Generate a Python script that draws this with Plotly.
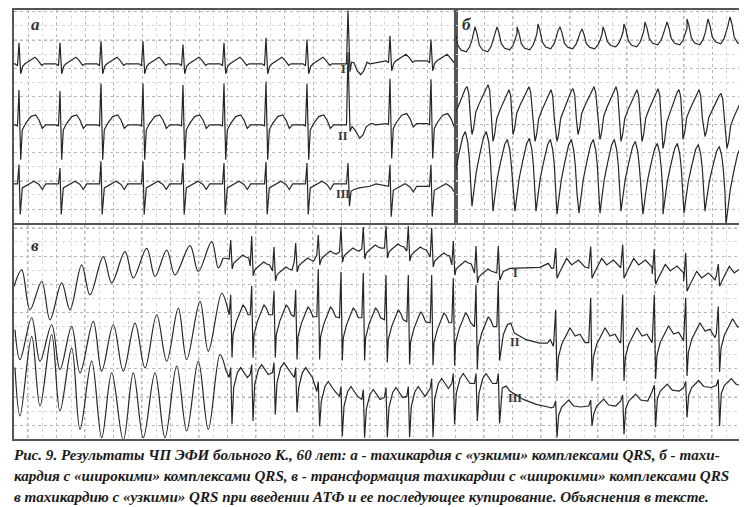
import plotly.graph_objects as go

# ---------------- panel а : tachycardia with narrow QRS ----------------
# time in s, amplitude in mV (leads stacked by their isoline)
a_r_time = [0.05, 0.46, 0.87, 1.29, 1.69, 2.10, 2.52, 2.93, 3.34, 3.76, 4.17]
a_kind = ["n", "n", "n", "n", "n", "n", "n", "n", "x", "n", "n"]

a_base_1 = [8.0, 8.0, 8.0, 8.0, 8.0, 8.0, 8.0, 8.0, 8.0, 8.15, 8.15]
a_base_2 = [4.93, 4.93, 4.93, 4.93, 4.93, 4.93, 4.93, 4.93, 4.93, 5.0, 5.0]
a_base_3 = [1.97, 1.97, 1.97, 1.97, 1.97, 1.97, 1.97, 1.97, 1.97, 1.85, 1.85]
a_r_1 = [1.05, 1.05, 1.13, 1.13, 0.97, 1.05, 1.3, 1.22, 2.68, 1.25, 1.07]
a_r_2 = [1.75, 1.7, 2.08, 2.08, 2.0, 2.08, 2.17, 2.08, 3.65, 2.25, 2.22]
a_r_3 = [0.97, 0.8, 1.13, 1.13, 1.05, 1.05, 1.1, 1.05, 1.05, 1.08, 1.08]

# complex shapes: offset from R (s) / deviation from isoline (mV); index 2 = R
a_n1_t = [-0.04, -0.015, 0, 0.017, 0.037, 0.06, 0.11, 0.16, 0.19, 0.227, 0.25]
a_n1_v = [0, -0.1, 1.0, -0.5, -0.13, 0, 0.17, 0.33, 0.17, -0.08, 0]
a_n2_t = [-0.04, -0.015, 0, 0.017, 0.033, 0.067, 0.117, 0.167, 0.2, 0.233, 0.267]
a_n2_v = [0, -0.05, 2.0, -1.75, -0.25, 0.08, 0.42, 0.5, 0.25, -0.17, 0]
a_n3_t = [-0.04, -0.015, 0, 0.012, 0.033, 0.083, 0.15, 0.2, 0.233, 0.267]
a_n3_v = [0, 0, 1.0, -1.53, -0.2, -0.07, 0.13, -0.03, -0.28, 0]
a_x1_t = [-0.04, -0.015, 0, 0.02, 0.035, 0.06, 0.09, 0.127, 0.16, 0.19, 0.22]
a_x1_v = [0, 0, 2.68, -0.4, 0.08, 0.05, -0.33, -0.55, -0.33, 0.08, 0]
a_x2_t = [-0.04, -0.015, 0, 0.02, 0.04, 0.07, 0.117, 0.15, 0.183, 0.233, 0.28]
a_x2_v = [0, 0, 3.65, -0.33, -0.08, -0.25, -0.67, -0.5, -0.08, 0.08, 0]
a_x3_t = [-0.04, -0.015, 0, 0.015, 0.03, 0.06, 0.11, 0.16, 0.22, 0.28]
a_x3_v = [0, 0, 1.05, -1.12, -0.37, -0.28, -0.2, -0.15, -0.12, 0]

# ---------------- panel б : tachycardia with wide QRS ----------------
b1_t = [-0.025, 0.19, 0.41, 0.61, 0.82, 1.04, 1.26, 1.47, 1.68, 1.89, 2.11, 2.31, 2.52, 2.74]
b1_hi = [9.8, 9.85, 9.85, 9.85, 10.0, 9.85, 9.75, 9.85, 10.0, 10.1, 10.1, 10.25, 10.25, 10.35]
b1_lo = [8.6, 8.6, 8.7, 8.7, 8.75, 8.75, 8.75, 8.85, 8.85, 8.95, 8.95, 8.95, 9.0, 8.95]
b2_t = [-0.05, 0.16, 0.37, 0.57, 0.79, 1.01, 1.22, 1.44, 1.65, 1.86, 2.07, 2.27, 2.49, 2.71]
b2_lo = [4.3, 4.45, 4.1, 4.45, 4.1, 4.1, 4.45, 4.2, 4.1, 4.1, 3.75, 4.2, 4.35, 3.75]
b2_hi = [6.85, 6.95, 6.7, 6.85, 6.7, 6.75, 6.85, 6.85, 6.7, 6.75, 6.7, 6.7, 6.5, 6.35]
b3_t = [-0.05, 0.16, 0.37, 0.59, 0.80, 1.01, 1.23, 1.44, 1.65, 1.87, 2.07, 2.28, 2.49, 2.70]
b3_lo = [0.8, 0.85, 0.6, 0.6, 0.6, 0.45, 0.5, 0.5, 0.6, 0.45, 0.45, 0.5, 0.6, -0.05]
b3_hi = [4.6, 4.6, 4.2, 4.25, 4.2, 4.2, 4.2, 4.2, 4.1, 4.0, 4.0, 3.95, 3.85, 3.75]
# shapes as fraction of the swing (0 = trough, 1 = peak)
b1_tpl_t = [0, 0.02, 0.043, 0.077, 0.127, 0.16, 0.183, 0.20]
b1_tpl_f = [1, 0.73, 0.27, 0.07, 0, 0.2, 0.47, 0.73]
b2_tpl_t = [0, 0.017, 0.037, 0.07, 0.11, 0.143, 0.16, 0.177, 0.193]
b2_tpl_f = [0, 0.14, 0.44, 0.61, 0.79, 0.96, 1.0, 0.88, 0.44]
b3_tpl_t = [0, 0.017, 0.043, 0.077, 0.117, 0.143, 0.167, 0.183, 0.20]
b3_tpl_f = [0, 0.19, 0.46, 0.69, 0.93, 1.0, 0.86, 0.65, 0.28]

# ---------------- panel в : wide -> narrow -> pause -> sinus ----------------
# wide complexes: turning points of each lead
w1_t = [0.0, 0.077, 0.16, 0.277, 0.36, 0.477, 0.56, 0.677, 0.76, 0.893, 0.977, 1.11, 1.193,
        1.327, 1.41, 1.527, 1.61, 1.76, 1.843, 1.977, 2.043, 2.09]
w1_v = [7.67, 8.5, 6.5, 7.92, 6.0, 7.85, 6.5, 8.75, 7.25, 9.17, 7.85, 9.42, 8.1,
        9.58, 8.17, 9.5, 8.25, 9.72, 8.42, 9.92, 8.6, 9.1]
w2_t = [0.01, 0.06, 0.177, 0.26, 0.377, 0.46, 0.577, 0.66, 0.793, 0.877, 0.993, 1.093, 1.21,
        1.31, 1.427, 1.527, 1.643, 1.727, 1.86, 1.943, 2.077, 2.13]
w2_v = [5.5, 4.0, 6.1, 3.92, 5.75, 3.5, 5.67, 3.33, 5.92, 3.42, 5.75, 3.42, 5.83,
        3.58, 6.25, 3.92, 6.58, 4.0, 6.92, 4.42, 7.33, 6.7]
w3_t = [0.01, 0.06, 0.177, 0.26, 0.377, 0.46, 0.577, 0.66, 0.777, 0.877, 0.977, 1.093, 1.193,
        1.293, 1.41, 1.51, 1.627, 1.727, 1.843, 1.943, 2.06, 2.12]
w3_v = [3.6, 1.17, 5.17, 1.67, 5.25, 1.42, 4.58, 0.5, 3.92, 0.08, 3.33, -0.05, 3.33,
        0.08, 3.33, 0.08, 3.67, 0.42, 3.92, 0.5, 4.25, 3.45]

c_narrow_t = [2.167, 2.377, 2.60, 2.817, 3.043, 3.27, 3.493, 3.72, 3.943, 4.177, 4.393, 4.62]
c_pause_t = 4.843
c_sinus_t = [5.417, 5.767, 6.087, 6.403, 6.717, 7.043]

c_n1_base = [9.05, 8.7, 8.45, 8.9, 9.25, 9.4, 9.55, 9.6, 9.45, 9.15, 8.75, 8.35]
c_n1_r = [0.95, 1.5, 1.2, 0.95, 1.0, 1.25, 1.1, 1.1, 1.25, 1.45, 1.2, 1.35]
c_n2_base = [6.25, 6.25, 6.25, 6.15, 6.15, 6.1, 6.1, 6.0, 5.9, 5.85, 5.85, 5.65]
c_n2_r = [1.0, 1.45, 1.2, 1.35, 2.4, 2.3, 2.25, 2.25, 2.35, 2.4, 2.25, 2.1]
c_n3_base = [3.1, 3.25, 3.35, 3.1, 2.4, 2.15, 2.0, 2.1, 2.15, 2.55, 2.8, 2.8]
c_n3_s = [-2.35, -2.33, -2.1, -1.75, -1.75, -2.0, -1.92, -2.0, -2.05, -2.45, -2.05, -1.88]
c_pause_base = [8.35, 5.65, 2.8]

c_s1_base = [8.6, 8.6, 8.6, 8.3, 7.95, 8.2]
c_s1_r = [1.0, 1.08, 1.17, 1.25, 1.4, 0.6]
c_s2_base = [4.85, 4.85, 4.85, 4.95, 5.1, 5.3]
c_s2_r = [1.65, 2.25, 2.4, 2.3, 2.0, 1.37]
c_s3_base = [1.62, 1.67, 1.92, 2.42, 2.6, 2.7]
c_s3_s = [-1.53, -1.0, -1.67, -1.82, -1.5, -2.03]

# narrow complexes (index 1 = R, index 2 = S)
c_n1_tpl_t = [-0.015, 0, 0.015, 0.03, 0.06, 0.09, 0.12, 0.15, 0.18]
c_n1_tpl_v = [0, 1.0, -0.5, -0.2, -0.05, 0.1, 0.2, 0.1, 0.05]
c_n2_tpl_t = [-0.015, 0, 0.013, 0.023, 0.057, 0.09, 0.123, 0.147, 0.173]
c_n2_tpl_v = [0, 2.0, -2.15, -1.0, -0.33, 0.08, 0.5, 0.33, 0]
c_n3_tpl_t = [-0.015, 0, 0.013, 0.03, 0.067, 0.10, 0.133, 0.167]
c_n3_tpl_v = [0, 0.5, -2.0, -0.5, 0.25, 0.5, 0.25, 0]
# last complex before the asystole
c_p1_t = [-0.015, 0, 0.015, 0.05, 0.117, 0.417, 0.467, 0.50, 0.533]
c_p1_v = [0, 1.35, -0.35, 0.07, 0.23, 0.28, 0.4, 0.48, 0.23]
c_p2_t = [-0.015, 0, 0.013, 0.025, 0.05, 0.09, 0.125, 0.16, 0.28, 0.41, 0.49, 0.52, 0.55]
c_p2_v = [0, 2.3, -1.7, -1.24, -0.4, 0.1, 0.18, -0.32, -0.65, -0.82, -0.82, -0.65, -0.98]
c_p3_t = [-0.015, 0, 0.013, 0.04, 0.08, 0.115, 0.25, 0.38, 0.50, 0.53]
c_p3_v = [0, 0.5, -2.0, -0.22, -0.13, -0.38, -0.8, -1.05, -1.18, -1.22]
# sinus complexes
c_s1_tpl_t = [-0.02, 0, 0.013, 0.043, 0.11, 0.16, 0.227, 0.293]
c_s1_tpl_v = [0, 1.0, -0.52, -0.18, 0.48, 0.15, 0.4, 0.05]
c_s2_tpl_t = [-0.02, 0, 0.013, 0.027, 0.06, 0.093, 0.143, 0.193, 0.243, 0.293]
c_s2_tpl_v = [0, 2.0, -1.92, -0.73, -0.08, 0.25, 0.75, 0.33, 0.42, 0]
c_s3_tpl_t = [-0.02, 0, 0.013, 0.03, 0.06, 0.13, 0.18, 0.25]
c_s3_tpl_v = [0, 0.3, -1.5, -0.4, 0, 0.35, 0.05, 0]

caption = [
    "Рис. 9. Результаты ЧП ЭФИ больного К., 60 лет: а - тахикардия с «узкими» комплексами QRS, б - тахи-",
    "кардия с «широкими» комплексами QRS, в - трансформация тахикардии с «широкими» комплексами QRS",
    "в тахикардию с «узкими» QRS при введении АТФ и ее последующее купирование. Объяснения в тексте.",
]


def place(times, bases, tpl_t, tpl_v, fill=None):
    # put the complex shape at every beat; fill = {template index: per-beat values}
    fill = fill or {}
    xs, ys = [], []
    for i, (t0, b) in enumerate(zip(times, bases)):
        for k, (dt, dv) in enumerate(zip(tpl_t, tpl_v)):
            if k in fill:
                dv = fill[k][i]
            xs.append(t0 + dt)
            ys.append(b + dv)
    return xs, ys


def place_swing(times, lo, hi, tpl_t, tpl_f):
    xs, ys = [], []
    for t0, l, h in zip(times, lo, hi):
        for dt, f in zip(tpl_t, tpl_f):
            xs.append(t0 + dt)
            ys.append(l + f * (h - l))
    return xs, ys


INK = "#262626"
fig = go.Figure()


def line(xs, ys, ax, shape="linear"):
    fig.add_trace(go.Scatter(x=xs, y=ys, mode="lines", xaxis="x" + ax, yaxis="y" + ax,
                             line=dict(color=INK, width=1.2, shape=shape, smoothing=1.0),
                             hoverinfo="skip", showlegend=False))


# panel а
for base, r_amp, tn, tx in [
        (a_base_1, a_r_1, (a_n1_t, a_n1_v), (a_x1_t, a_x1_v)),
        (a_base_2, a_r_2, (a_n2_t, a_n2_v), (a_x2_t, a_x2_v)),
        (a_base_3, a_r_3, (a_n3_t, a_n3_v), (a_x3_t, a_x3_v))]:
    xs, ys = [0.0], [base[0]]
    for i, t0 in enumerate(a_r_time):
        tt, vv = tx if a_kind[i] == "x" else tn
        x, y = place([t0], [base[i]], tt, vv, {2: [r_amp[i]]})
        xs += x
        ys += y
    line(xs, ys, "")

# panel б
line(*place_swing(b1_t, b1_lo, b1_hi, b1_tpl_t, b1_tpl_f), "2")
line(*place_swing(b2_t, b2_lo, b2_hi, b2_tpl_t, b2_tpl_f), "2")
line(*place_swing(b3_t, b3_lo, b3_hi, b3_tpl_t, b3_tpl_f), "2")

# panel в
leads_c = [
    (w1_t, w1_v, c_n1_base, c_n1_tpl_t, c_n1_tpl_v, {1: c_n1_r}, c_p1_t, c_p1_v,
     c_s1_base, c_s1_tpl_t, c_s1_tpl_v, {1: c_s1_r}),
    (w2_t, w2_v, c_n2_base, c_n2_tpl_t, c_n2_tpl_v, {1: c_n2_r}, c_p2_t, c_p2_v,
     c_s2_base, c_s2_tpl_t, c_s2_tpl_v, {1: c_s2_r}),
    (w3_t, w3_v, c_n3_base, c_n3_tpl_t, c_n3_tpl_v, {2: c_n3_s}, c_p3_t, c_p3_v,
     c_s3_base, c_s3_tpl_t, c_s3_tpl_v, {2: c_s3_s}),
]
for k, (wt, wv, nb, ntt, ntv, nfill, ptt, ptv, sb, stt, stv, sfill) in enumerate(leads_c):
    line(wt, wv, "3", shape="spline")
    xs, ys = [wt[-1]], [wv[-1]]
    for part in (place(c_narrow_t, nb, ntt, ntv, nfill),
                 place([c_pause_t], [c_pause_base[k]], ptt, ptv),
                 place(c_sinus_t, sb, stt, stv, sfill)):
        xs += part[0]
        ys += part[1]
    line(xs, ys, "3")

# the page body adds an 8 px margin, so the figure is drawn 8 px smaller
OFF = 8
W, H = 747 - OFF, 507 - OFF
frame = dict(showline=True, mirror=True, linecolor="#555555", linewidth=1.7,
             showticklabels=False, ticks="", zeroline=False, showgrid=True,
             gridcolor="#b8b8b8", griddash="dot", gridwidth=1)


def xax(left, right, rng, tick0):
    return dict(frame, domain=[(left - OFF) / W, (right - OFF) / W], range=rng,
                dtick=0.285, tick0=tick0,
                minor=dict(dtick=0.1425, showgrid=True, gridcolor="#d8d8d8", griddash="dot"))


def yax(top, bottom, anchor, vmax):
    return dict(frame, domain=[1 - (bottom - OFF) / H, 1 - (top - OFF) / H], range=[0, vmax],
                dtick=1.415, tick0=0.7, anchor=anchor,
                minor=dict(dtick=0.7075, showgrid=True, gridcolor="#d8d8d8", griddash="dot"))


fig.update_layout(
    width=W, height=H, margin=dict(l=0, r=0, t=0, b=0),
    paper_bgcolor="white", plot_bgcolor="white",
    xaxis=dict(xax(14, 456, [0, 4.42], 0.14), anchor="y"),
    yaxis=yax(8, 222, "x", 10.7),
    xaxis2=dict(xax(456, 740, [0, 2.84], 0.28), anchor="y2"),
    yaxis2=yax(8, 222, "x2", 10.7),
    xaxis3=dict(xax(14, 740, [0, 7.26], 0.135), anchor="y3"),
    yaxis3=yax(224, 439, "x3", 10.75),
)

serif = "Liberation Serif, Times New Roman, serif"
notes = [
    ("а", "", 0.21, 9.95, 17), ("б", "2", 0.11, 9.95, 17), ("в", "3", 0.21, 9.75, 17),
]
for txt, ax, x, y, size in notes:
    fig.add_annotation(text="<b><i>" + txt + "</i></b>", x=x, y=y, xref="x" + ax, yref="y" + ax,
                       showarrow=False, font=dict(family=serif, size=size, color="#333"))
for txt, ax, x, y in [("I", "", 3.29, 7.75), ("II", "", 3.29, 4.35), ("III", "", 3.29, 1.45),
                      ("I", "3", 5.01, 8.35), ("II", "3", 5.01, 4.9), ("III", "3", 5.01, 2.05)]:
    fig.add_annotation(text="<b>" + txt + "</b>", x=x, y=y, xref="x" + ax, yref="y" + ax,
                       showarrow=False, font=dict(family=serif, size=12, color="#333"))

for i, txt in enumerate(caption):
    fig.add_annotation(text="<b><i>" + txt + "</i></b>", x=(12 - OFF) / W,
                       y=1 - (455 + 21 * i - OFF) / H,
                       xref="paper", yref="paper", xanchor="left", yanchor="middle",
                       showarrow=False, font=dict(family=serif, size=15.1, color="#1a1a1a"))

fig.write_html("out.html")
